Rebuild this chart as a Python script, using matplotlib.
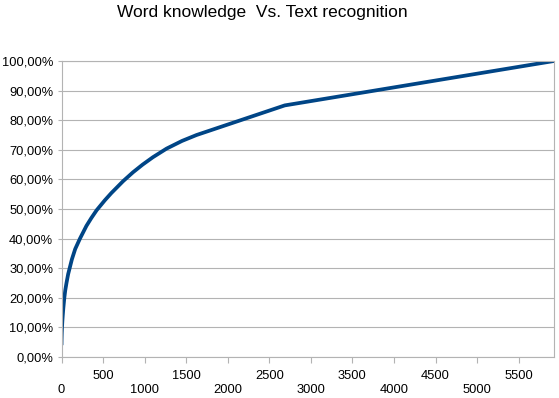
import matplotlib.pyplot as plt
from matplotlib.ticker import FuncFormatter

# Words known vs. share of text recognised
words = [0, 1, 3, 6, 10, 15, 22, 34, 45, 60, 80, 98, 125, 165, 222, 300, 360,
         423, 523, 600, 741, 860, 976, 1100, 1264, 1450, 1625, 2686, 5925]
coverage = [4, 6, 8, 10, 12, 14, 16.5, 20, 22.5, 25, 28, 30, 33, 36.5, 40, 44.3, 47,
            49.6, 53, 55.4, 59.4, 62.4, 65, 67.5, 70.4, 73, 75, 85, 100]

x_ticks = [0, 500, 1000, 1500, 2000, 2500, 3000, 3500, 4000, 4500, 5000, 5500]
y_ticks = [0, 10, 20, 30, 40, 50, 60, 70, 80, 90, 100]

title = "Word knowledge  Vs. Text recognition"

plt.rcParams["font.family"] = ["Liberation Sans", "DejaVu Sans"]

fig = plt.figure(figsize=(5.59, 3.98), dpi=100)
W, H = 559, 398
ax = fig.add_axes([61.5 / W, (H - 357) / H, (554 - 61.5) / W, (357 - 61) / H])

ax.plot(words, coverage, color="#004586", linewidth=2.7,
        solid_capstyle="butt", solid_joinstyle="round")

ax.set_xlim(0, 5925)
ax.set_ylim(0, 100)
ax.set_yticks(y_ticks)
ax.yaxis.set_major_formatter(FuncFormatter(lambda v, p: f"{v:.2f}%".replace(".", ",")))

# staggered x labels like the original office chart
ax.set_xticks(x_ticks)
ax.set_xticklabels([("\n" + str(t)) if i % 2 == 0 else str(t) for i, t in enumerate(x_ticks)])

ax.grid(axis="y", color="#b3b3b3", linewidth=0.8)
ax.set_axisbelow(True)
for s in ax.spines.values():
    s.set_color("#b3b3b3")
    s.set_linewidth(0.8)

ax.tick_params(axis="both", colors="#b3b3b3", labelcolor="black", labelsize=9.3, width=0.8)
ax.tick_params(axis="y", length=3, pad=3)
ax.tick_params(axis="x", length=4, pad=5.5)

fig.text(262.5 / W, 1 - 13 / H, title, ha="center", va="center", fontsize=12.5)

fig.savefig("out.png", dpi=100)
